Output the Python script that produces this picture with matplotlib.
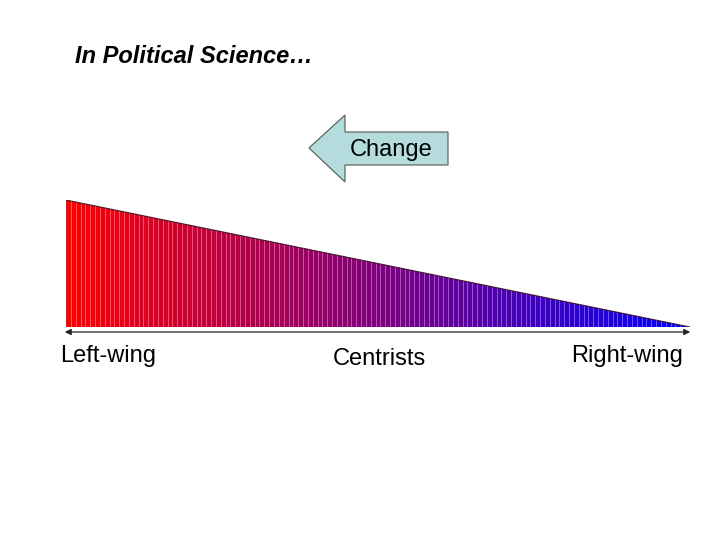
import numpy as np
import matplotlib
matplotlib.use("Agg")
import matplotlib.pyplot as plt
from matplotlib.patches import Polygon, FancyArrowPatch
from matplotlib.colors import LinearSegmentedColormap

# ── Data ────────────────────────────────────────────────
title_text = "In Political Science\u2026"
spectrum_x = [0.0, 1.0]          # left end -> right end of the spectrum
spectrum_height = [1.0, 0.0]     # relative size at each end
spectrum_colors = ["#ff0000", "#0000ff"]
wing_labels = ["Left-wing", "Centrists", "Right-wing"]
shift_label = "Change"

plt.rcParams["font.family"] = ["Liberation Sans", "DejaVu Sans"]

W, H = 728, 546
fig = plt.figure(figsize=(W / 100, H / 100), dpi=100)

def fx(px):
    return px / W

def fy(py):
    return 1 - py / H

# ── Spectrum triangle ────────────────────────────────────
x0, x1, ytop, ybot = 66, 690, 200, 327
ax = fig.add_axes([fx(x0), fy(ybot), fx(x1) - fx(x0), (ybot - ytop) / H])
ax.set_xlim(spectrum_x[0], spectrum_x[1])
ax.set_ylim(0, max(spectrum_height))
ax.axis("off")

cmap = LinearSegmentedColormap.from_list("lr", spectrum_colors)
grad = np.linspace(0, 1, 256).reshape(1, -1)
img = ax.imshow(grad, cmap=cmap, aspect="auto", interpolation="bilinear",
                extent=[spectrum_x[0], spectrum_x[1], 0, max(spectrum_height)])
verts = [(spectrum_x[0], 0), (spectrum_x[0], spectrum_height[0]),
         (spectrum_x[1], spectrum_height[1]), (spectrum_x[1], 0)]
tri = Polygon(verts, closed=True, facecolor="none", edgecolor="none")
ax.add_patch(tri)
img.set_clip_path(tri)

# faint light vertical stripes
stripes = np.linspace(spectrum_x[0], spectrum_x[1], 130)
lines = ax.vlines(stripes, 0, max(spectrum_height), colors="white",
                  lw=0.5, alpha=0.35, antialiased=False)
lines.set_clip_path(tri)

# dark outline on left edge and top slope
ax.plot([spectrum_x[0], spectrum_x[0], spectrum_x[1]],
        [0, spectrum_height[0], spectrum_height[1]],
        color="#300010", lw=0.8, alpha=0.8)

# ── Double-headed axis arrow ─────────────────────────────
fig.add_artist(FancyArrowPatch(
    (fx(62), fy(332)), (fx(693), fy(332)), transform=fig.transFigure,
    arrowstyle="<|-|>", mutation_scale=9, color="#222222", lw=0.9))

# ── Change arrow ─────────────────────────────────────────
arrow_px = [(309, 148), (345, 115), (345, 132), (448, 132),
            (448, 165), (345, 165), (345, 182)]
arrow = Polygon([(fx(px), fy(py)) for px, py in arrow_px], closed=True,
                transform=fig.transFigure, facecolor="#b4dcdc",
                edgecolor="#555555", lw=0.8)
fig.add_artist(arrow)
fig.text(fx(391), fy(156), shift_label, fontsize=17, ha="center", va="baseline")

# ── Texts ────────────────────────────────────────────────
fig.text(fx(75), fy(63), title_text, fontsize=17, fontweight="bold",
         fontstyle="italic", ha="left", va="baseline")
fig.text(fx(60), fy(362), wing_labels[0], fontsize=17, ha="left", va="baseline")
fig.text(fx(379), fy(365), wing_labels[1], fontsize=17, ha="center", va="baseline")
fig.text(fx(683), fy(362), wing_labels[2], fontsize=17, ha="right", va="baseline")

fig.savefig("out.png", dpi=100)
